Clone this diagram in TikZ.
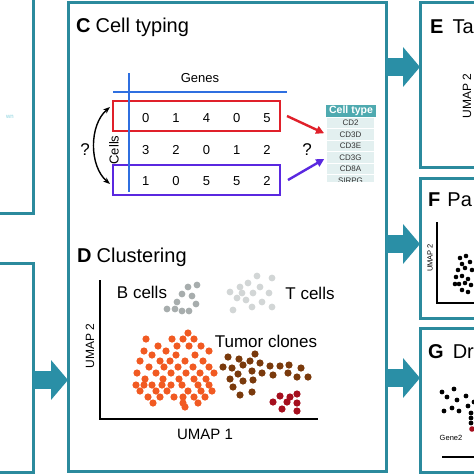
\documentclass[tikz,border=0pt]{standalone}
\usepackage{fontspec}
\setmainfont{Liberation Sans}
\usepackage{xcolor}
\definecolor{panelteal}{HTML}{2B8A9D}
\definecolor{arrowteal}{HTML}{2A8FA6}
\definecolor{matblue}{HTML}{2F6FE0}
\definecolor{rowred}{HTML}{E0202A}
\definecolor{rowviolet}{HTML}{5A28E0}
\definecolor{headteal}{HTML}{4FAAB0}
\definecolor{cellbg}{HTML}{E3F0F0}
\definecolor{orangeC}{HTML}{F15A22}
\definecolor{brownC}{HTML}{7A3A0C}
\definecolor{darkredC}{HTML}{A50F1E}
\definecolor{grayB}{HTML}{A7ADAD}
\definecolor{grayT}{HTML}{D2D6D6}
\definecolor{faintcyan}{HTML}{8AD3DF}
\usetikzlibrary{positioning,arrows.meta,calc}

\tikzset{
	panel/.style={draw=panelteal, line width=3pt, fill=white, inner sep=0pt, outer sep=0pt},
	blockarrow/.style={draw=arrowteal, line width=18pt, -{Triangle[length=17pt,width=39pt]}},
	ptitle/.style={anchor=base west, inner sep=0pt, font=\fontsize{20}{22}\selectfont},
	rowbox/.style={line width=2.2pt, minimum width=167pt, minimum height=30pt, inner sep=0pt, outer sep=0pt},
	matline/.style={matblue, line width=2.2pt},
	numtxt/.style={inner sep=0pt, font=\fontsize{13}{14}\selectfont},
	qmark/.style={inner sep=0pt, font=\fontsize{17}{18}\selectfont},
	typearrow/.style={line width=2.4pt, -{Triangle[length=8pt,width=8pt]}, shorten >=3pt},
	typehead/.style={fill=headteal, text=white, minimum width=50pt, minimum height=12pt, inner sep=0pt, font=\bfseries\fontsize{10.5}{11}\selectfont},
	typecell/.style={fill=cellbg, text=black!80, minimum width=47pt, minimum height=10.5pt, inner sep=0pt, font=\fontsize{8}{9}\selectfont},
	axisline/.style={black, line width=1.8pt},
	clabel/.style={inner sep=0pt, font=\fontsize{17}{18}\selectfont},
}

\begin{document}
\begin{tikzpicture}[x=1pt,y=-1pt]
	\path[use as bounding box, clip] (0,0) rectangle (474,474);
	\fill[white] (0,0) rectangle (474,474);

	% panels
	\node[panel, minimum width=53pt, minimum height=223pt] (pA) at (6.5,101.5) {};
	\node[panel, minimum width=53pt, minimum height=209pt] (pB) at (6.5,367.5) {};
	\node[panel, minimum width=318pt, minimum height=469pt] (pC) at (227,236.5) {};
	\node[panel, minimum width=80pt, minimum height=165pt] (pE) at (460,84.5) {};
	\node[panel, minimum width=80pt, minimum height=140pt] (pF) at (460,248) {};
	\node[panel, minimum width=80pt, minimum height=144pt] (pG) at (460,400) {};

	\node[inner sep=0pt, anchor=east, text=faintcyan, font=\fontsize{6}{7}\selectfont] (tA) at (14,117) {wn};

	% big arrows
	\coordinate (yB) at (0,380);
	\coordinate (yE) at (0,67);
	\coordinate (yF) at (0,244);
	\coordinate (yG) at (0,378);
	\draw[blockarrow] (pB.east |- yB) -- (pC.west |- yB);
	\draw[blockarrow] (pC.east |- yE) -- (pE.west |- yE);
	\draw[blockarrow] (pC.east |- yF) -- (pF.west |- yF);
	\draw[blockarrow] (pC.east |- yG) -- (pG.west |- yG);

	%%% C cell typing
	\node[ptitle] (tC) at (76,32) {\textbf{C}\hspace{5pt}Cell typing};
	\node[rowbox, draw=rowred] (rowR) at (196.5,116) {};
	\node[rowbox, draw=rowviolet] (rowV) at (196.5,180) {};
	\draw[matline] (113,92) -- (287,92);
	\draw[matline] (129,73) -- (129,192);
	\node[numtxt] (genes) at (200,78) {Genes};
	\node[numtxt, rotate=90] (cells) at (114,150) {Cells};
	\foreach \row/\yy/\vals in {1/118/{0,1,4,0,5},2/150/{3,2,0,1,2},3/181/{1,0,5,5,2}}
		\foreach \v [count=\c] in \vals
			\node[numtxt] (n\row\c) at ({115.5+30.3*\c},\yy) {\v};

	\coordinate (swapT) at (110,107);
	\coordinate (swapB) at (110,184);
	\draw[line width=1.4pt, {Stealth[length=7pt]}-{Stealth[length=7pt]}] (swapT) .. controls (89,125) and (89,166) .. (swapB);
	\node[qmark] (qL) at (85,150) {?};
	\node[qmark] (qR) at (307,150) {?};

	% cell type list
	\node[typehead] (cth) at (351,111) {Cell type};
	\foreach \g [count=\i] in {CD2,CD3D,CD3E,CD3G,CD8A}
		\node[typecell] (ct\i) at (350.5,{111.5+11.5*\i}) {\g};
	\begin{scope}
		\clip (320,175) rectangle (380,181);
		\node[typecell] (ct6) at (350.5,180.5) {SIRPG};
	\end{scope}
	\draw[typearrow, rowred] ([xshift=7pt]rowR.east) -- (ct2.west);
	\draw[typearrow, rowviolet] ([xshift=8pt]rowV.east) -- (ct4.west);

	%%% D clustering
	\node[ptitle] (tD) at (77,262) {\textbf{D}\hspace{5pt}Clustering};
	\draw[axisline] (100,280) -- (100,419) -- (318,419);
	\node[inner sep=0pt, rotate=90, font=\fontsize{12}{13}\selectfont] (um2) at (90,346) {UMAP 2};
	\node[inner sep=0pt, font=\fontsize{15}{16}\selectfont] (um1) at (205,434) {UMAP 1};

	\foreach \xx/\yy in {188/287,197/285,182/294,192/296,177/302,196/304,167/309,175/309,182/311,189/311}
		\fill[grayB] (\xx,\yy) circle (3.4pt);
	\foreach \xx/\yy in {230/292,237/298,233/310,240/287,257/276,272/278,248/283,260/287,242/293,253/293,269/293,246/300,262/302,252/307,272/307}
		\fill[grayT] (\xx,\yy) circle (3.4pt);
	\foreach \yy/\xs in {333/{188},339/{146,172,183,194},346/{158,177,189,201},351/{144,166,209},355/{152,176,195},361/{140,160,170,185,203},367/{149,164,178,193,209},373/{137,156,171,186,200,214},379/{145,163,179,194,206},385/{136,144,152,162,171,182,198,209},391/{140,156,167,188,201,212},397/{148,160,174,183,194,205},403/{153,183,198},407/{185}}
		\foreach \xx in \xs
			\fill[orangeC] (\xx,\yy) circle (3.6pt);
	\foreach \xx/\yy in {228/357,239/359,255/354,223/367,232/368,243/365,250/361,260/363,270/366,280/366,289/365,301/368,238/374,252/371,262/373,273/375,288/373,297/377,308/377,230/379,243/381,253/380,233/387,240/395,252/392}
		\fill[brownC] (\xx,\yy) circle (3.6pt);
	\foreach \xx/\yy in {273/402,280/396,287/402,297/394,282/409,297/403,297/411,290/397}
		\fill[darkredC] (\xx,\yy) circle (3.6pt);

	\node[clabel] (lB) at (142,292) {B cells};
	\node[clabel] (lT) at (310,293) {T cells};
	\node[clabel] (lTum) at (266,341) {Tumor clones};

	%%% E, F, G
	\node[ptitle] (tE) at (430,33) {\textbf{E}\hspace{9pt}Ta};
	\node[inner sep=0pt, rotate=90, font=\fontsize{12}{13}\selectfont] (umE) at (467,96) {UMAP 2};

	\node[ptitle] (tF) at (428,206) {\textbf{F}\hspace{7pt}Pa};
	\draw[axisline] (437,222) -- (437,303) -- (480,303);
	\node[inner sep=0pt, rotate=90, font=\fontsize{7.5}{8}\selectfont] (umF) at (430,258) {UMAP 2};
	\foreach \xx/\yy in {460/258,466/256,462/264,470/262,458/270,465/268,472/270,456/277,462/276,468/279,459/284,465/283,471/285,462/290,468/292,455/284}
		\fill[black] (\xx,\yy) circle (2.3pt);

	\node[ptitle] (tG) at (428,358) {\textbf{G}\hspace{9pt}Dr};
	\foreach \xx/\yy in {442/392,454/389,447/397,457/400,466/396,444/411,452/408,459/411,468/406,471/413,471/418,471/423,474/402}
		\fill[black] (\xx,\yy) circle (2.4pt);
	\fill[darkredC] (472,429) circle (2.8pt);
	\node[inner sep=0pt, font=\fontsize{7.5}{8}\selectfont] (gene2) at (451,438) {Gene2};
	\draw[axisline] (442,457) -- (480,457);
\end{tikzpicture}
\end{document}
